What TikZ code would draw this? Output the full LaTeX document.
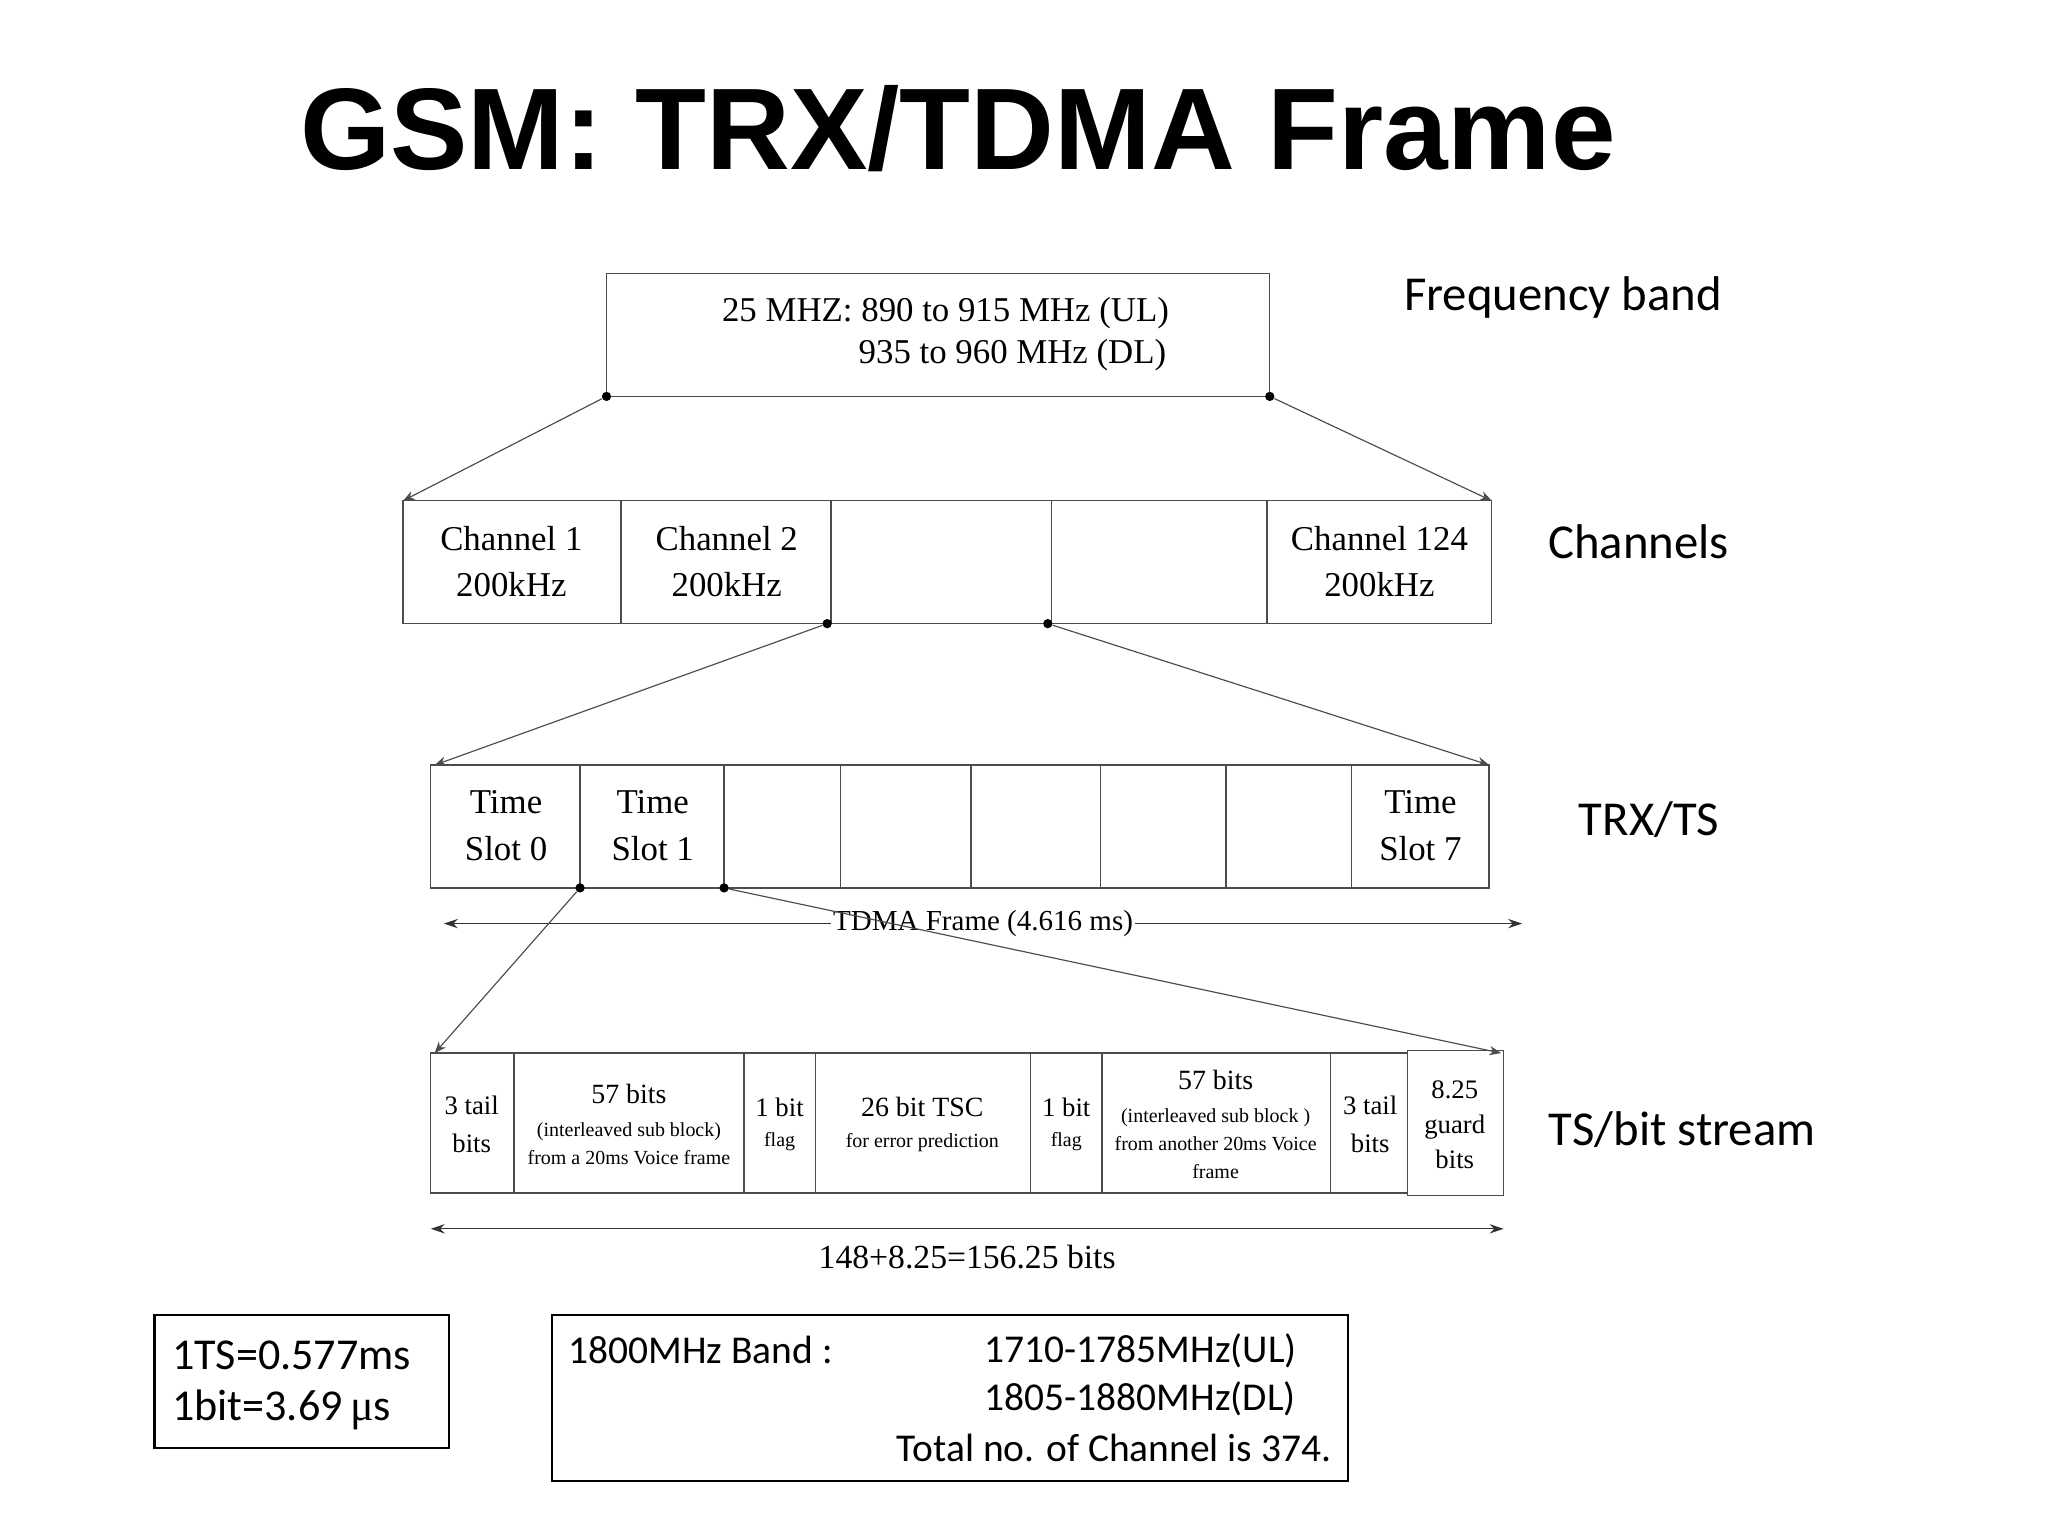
\documentclass[tikz,border=0pt]{standalone}
\usepackage{fontspec}
\setmainfont{Liberation Serif}
\newfontfamily\titlefont{Liberation Sans}
\newfontfamily\calfont{Carlito}
\usetikzlibrary{arrows.meta}
\newcommand{\fsz}[1]{\fontsize{#1}{#1*1.2}\selectfont}
\tikzset{
 bx/.style={draw=black!70, line width=0.6pt},
 lab/.style={font=\calfont\fontsize{21}{25}\selectfont, anchor=center},
 ser/.style={align=center, font=\fontsize{15}{18}\selectfont, inner sep=0pt},
 sm/.style={align=center, inner sep=0pt},
 conn/.style={draw=black!70, line width=0.5pt, -{Stealth[length=5pt,width=4pt]}},
 dot/.style={circle, fill=black, inner sep=0pt, minimum size=4pt},
 dim/.style={draw=black!80, line width=0.5pt, {Stealth[length=6pt,width=4pt]}-{Stealth[length=6pt,width=4pt]}}
}
\begin{document}
\begin{tikzpicture}[x=0.02cm,y=-0.02cm]
\useasboundingbox[fill=white] (0,0) rectangle (1550,1162);
\node[font=\titlefont\bfseries\fontsize{50}{58}\selectfont] (title) at (725,97) {GSM: TRX/TDMA Frame};
% frequency band
\draw[bx] (459,207) rectangle (961,300);
\node[ser, anchor=east] (f1) at (885,237) {25 MHZ: 890 to 915 MHz (UL)};
\node[ser, anchor=east] (f2) at (883,269) {935 to 960 MHz (DL)};
\node[lab] (lf) at (1183,225) {Frequency band};
\node[dot] (d1) at (459,300) {};
\node[dot] (d2) at (961,300) {};
\coordinate (c1) at (305,379); \coordinate (c2) at (1129,379);
\draw[conn] (d1) -- (c1); \draw[conn] (d2) -- (c2);
% channels
\draw[bx] (305,379) rectangle (1129,472);
\foreach \x in {470,629,796,959} \draw[bx] (\x,379) -- (\x,472);
\node[ser] (ch1) at (387,425) {Channel 1\\[2pt]200kHz};
\node[ser] (ch2) at (550,425) {Channel 2\\[2pt]200kHz};
\node[ser] (ch124) at (1044,425) {Channel 124\\[2pt]200kHz};
\node[lab] (lc) at (1240,410) {Channels};
\node[dot] (d3) at (626,472) {};
\node[dot] (d4) at (793,472) {};
\coordinate (c3) at (329,579); \coordinate (c4) at (1127,579);
\draw[conn] (d3) -- (c3); \draw[conn] (d4) -- (c4);
% time slots
\draw[bx] (326,579) rectangle (1127,672);
\foreach \x in {439,548,636,735,833,928,1023} \draw[bx] (\x,579) -- (\x,672);
\node[ser] (t0) at (383,625) {Time\\[2pt]Slot 0};
\node[ser] (t1) at (494,625) {Time\\[2pt]Slot 1};
\node[ser] (t7) at (1075,625) {Time\\[2pt]Slot 7};
\node[lab] (lt) at (1248,620) {TRX/TS};
\coordinate (ta) at (336,699); \coordinate (tb) at (1152,699);
\draw[dim] (ta) -- (tb);
\node[sm, fill=white, inner sep=1pt, font=\fontsize{12.5}{15}\selectfont] (tdma) at (744,699) {TDMA Frame (4.616 ms)};
\node[dot] (d5) at (439,672) {};
\node[dot] (d6) at (548,672) {};
\coordinate (c5) at (329,797); \coordinate (c6) at (1136,797);
\draw[conn] (d5) -- (c5); \draw[conn] (d6) -- (c6);
% bit stream
\draw[bx] (326,797) rectangle (1065,903);
\draw[bx] (1065,795) rectangle (1138,905);
\foreach \x in {389,563,617,780,834,1007} \draw[bx] (\x,797) -- (\x,903);
\node[sm, font=\fontsize{11.5}{14}\selectfont] (b1) at (357,851) {3 tail\\[2pt]bits};
\node[sm] (b2) at (476,851) {{\fontsize{12}{14}\selectfont 57 bits}\\[2pt]{\fontsize{8.6}{10.5}\selectfont (interleaved sub block)}\\{\fontsize{8.6}{10.5}\selectfont from a 20ms Voice frame}};
\node[sm] (b3) at (590,851) {{\fontsize{11.5}{14}\selectfont 1 bit}\\[1pt]{\fontsize{8.6}{10.5}\selectfont flag}};
\node[sm] (b4) at (698,851) {{\fontsize{12}{14}\selectfont 26 bit TSC}\\[1pt]{\fontsize{8.6}{10.5}\selectfont for error prediction}};
\node[sm] (b5) at (807,851) {{\fontsize{11.5}{14}\selectfont 1 bit}\\[1pt]{\fontsize{8.6}{10.5}\selectfont flag}};
\node[sm] (b6) at (920,851) {{\fontsize{12}{14}\selectfont 57 bits}\\[2pt]{\fontsize{8.6}{10.5}\selectfont (interleaved sub block )}\\{\fontsize{8.6}{10.5}\selectfont from another 20ms Voice}\\{\fontsize{8.6}{10.5}\selectfont frame}};
\node[sm, font=\fontsize{11.5}{14}\selectfont] (b7) at (1037,851) {3 tail\\[2pt]bits};
\node[sm, font=\fontsize{11.5}{14}\selectfont] (b8) at (1101,851) {8.25\\[1pt]guard\\[1pt]bits};
\node[lab] (lb) at (1273,855) {TS/bit stream};
\coordinate (ba) at (326,930); \coordinate (bb) at (1138,930);
\draw[dim] (ba) -- (bb);
\node[sm, font=\fontsize{14.5}{17}\selectfont] (tot) at (732,951) {148+8.25=156.25 bits};
% bottom boxes
\draw[line width=1pt] (117,995) rectangle (340,1096);
\node[anchor=west, font=\calfont\fontsize{19}{23}\selectfont, inner sep=0pt] (ts) at (130,1026) {1TS=0.577ms};
\node[anchor=west, font=\calfont\fontsize{19}{23}\selectfont, inner sep=0pt] (bit) at (130,1067) {1bit=3.69\,{\fontspec{Liberation Serif}μ}s};
\draw[line width=1pt] (418,995) rectangle (1020,1121);
\node[anchor=west, font=\calfont\fontsize{17}{21}\selectfont, inner sep=0pt] (bd) at (430,1022) {1800MHz Band :};
\node[anchor=west, font=\calfont\fontsize{17}{21}\selectfont, inner sep=0pt] (ul) at (745,1022) {1710-1785MHz(UL)};
\node[anchor=west, font=\calfont\fontsize{17}{21}\selectfont, inner sep=0pt] (dl) at (745,1059) {1805-1880MHz(DL)};
\node[anchor=east, font=\calfont\fontsize{17}{21}\selectfont, inner sep=0pt] (tc) at (1008,1096) {Total no. of Channel is 374.};
\end{tikzpicture}
\end{document}
